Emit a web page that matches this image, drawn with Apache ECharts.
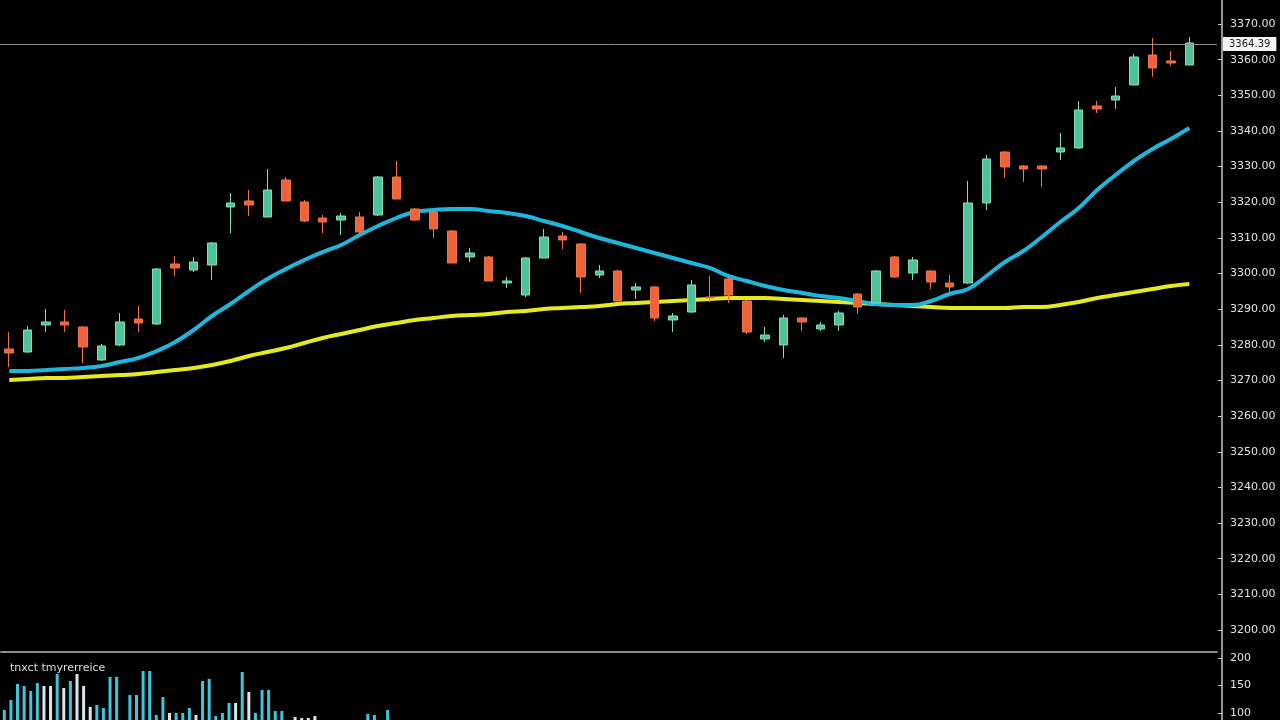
<!DOCTYPE html>
<html>
<head>
<meta charset="utf-8">
<style>
  html, body { margin: 0; padding: 0; background: #000; }
  #chart { width: 1280px; height: 720px; }
</style>
<script src="https://cdn.jsdelivr.net/npm/echarts@6/dist/echarts.min.js"></script>
</head>
<body>
<div id="chart"></div>
<script>
// ---- data ----
// candle slots (one spare future slot at the right edge)
const categories = Array.from({ length: 66 }, (_, i) => 'D' + (i + 1));

// [open, close, low, high]
const candles = [
  [3278.84, 3277.71, 3273.79, 3283.60],
  [3277.99, 3284.16, 3277.71, 3285.29],
  [3285.57, 3286.41, 3283.60, 3290.06],
  [3286.41, 3285.57, 3283.60, 3289.77],
  [3285.01, 3279.40, 3274.91, 3285.29],
  [3275.75, 3279.68, 3275.47, 3280.24],
  [3279.96, 3286.41, 3279.68, 3288.93],
  [3287.25, 3286.13, 3283.60, 3290.90],
  [3285.85, 3301.28, 3285.57, 3301.56],
  [3302.68, 3301.56, 3299.31, 3304.92],
  [3300.99, 3303.24, 3300.43, 3304.64],
  [3302.40, 3308.57, 3298.19, 3308.85],
  [3318.67, 3319.79, 3311.37, 3322.59],
  [3320.35, 3319.23, 3316.14, 3323.43],
  [3315.86, 3323.43, 3315.86, 3329.33],
  [3326.24, 3320.35, 3320.35, 3327.08],
  [3320.07, 3314.74, 3314.46, 3320.63],
  [3315.58, 3314.46, 3311.37, 3316.42],
  [3315.02, 3316.14, 3310.81, 3316.98],
  [3315.86, 3311.65, 3311.37, 3317.26],
  [3316.42, 3327.08, 3316.14, 3327.36],
  [3327.08, 3320.91, 3320.91, 3331.57],
  [3318.11, 3315.02, 3314.74, 3318.39],
  [3317.26, 3312.50, 3309.97, 3317.82],
  [3311.93, 3302.96, 3302.96, 3312.21],
  [3304.64, 3305.76, 3303.24, 3307.17],
  [3304.64, 3297.91, 3297.91, 3304.92],
  [3297.35, 3297.91, 3295.95, 3299.03],
  [3293.98, 3304.36, 3293.42, 3304.64],
  [3304.36, 3310.25, 3304.36, 3312.50],
  [3310.53, 3309.41, 3306.89, 3311.65],
  [3308.29, 3299.03, 3294.54, 3308.57],
  [3299.59, 3300.71, 3298.75, 3302.40],
  [3300.71, 3292.30, 3292.30, 3300.99],
  [3295.38, 3296.23, 3292.86, 3297.35],
  [3296.23, 3287.53, 3286.69, 3296.51],
  [3286.97, 3288.09, 3283.60, 3288.93],
  [3289.21, 3296.79, 3288.93, 3298.19],
  [3293.42, 3293.14, 3292.02, 3299.31],
  [3298.47, 3293.98, 3291.74, 3298.75],
  [3292.30, 3283.60, 3283.04, 3292.58],
  [3281.64, 3282.76, 3280.80, 3285.01],
  [3279.96, 3287.53, 3276.31, 3288.37],
  [3287.53, 3286.41, 3283.88, 3287.81],
  [3284.45, 3285.57, 3283.88, 3286.41],
  [3285.57, 3288.93, 3283.88, 3289.49],
  [3294.26, 3290.62, 3288.65, 3294.54],
  [3291.74, 3300.71, 3291.74, 3300.99],
  [3304.64, 3299.03, 3298.75, 3304.92],
  [3300.15, 3303.80, 3298.19, 3304.64],
  [3300.71, 3297.63, 3295.67, 3300.99],
  [3297.35, 3296.23, 3294.82, 3299.59],
  [3297.35, 3319.79, 3297.07, 3325.96],
  [3319.79, 3332.13, 3317.82, 3333.25],
  [3334.09, 3329.89, 3326.80, 3334.37],
  [3330.17, 3329.33, 3325.68, 3330.45],
  [3330.17, 3329.33, 3324.28, 3330.45],
  [3334.09, 3335.22, 3331.85, 3339.42],
  [3335.22, 3345.87, 3334.94, 3348.40],
  [3347.00, 3346.16, 3345.03, 3348.40],
  [3348.68, 3349.80, 3346.16, 3352.33],
  [3352.89, 3360.74, 3352.89, 3361.58],
  [3361.30, 3357.66, 3355.13, 3366.07],
  [3359.62, 3359.06, 3358.22, 3362.42],
  [3358.50, 3364.67, 3358.50, 3366.35]
];

// fast average (cyan)
const maFast = [
  3272.66, 3272.66, 3272.94, 3273.23, 3273.51, 3274.07, 3275.19, 3276.31, 3278.27, 3280.80,
  3284.16, 3288.09, 3291.46, 3295.10, 3298.47, 3301.28, 3303.80, 3306.04, 3308.01, 3310.81,
  3313.34, 3315.58, 3317.26, 3317.82, 3318.11, 3318.11, 3317.54, 3316.98, 3316.14, 3314.74,
  3313.34, 3311.65, 3309.97, 3308.57, 3307.17, 3305.76, 3304.36, 3302.96, 3301.56, 3299.31,
  3297.91, 3296.51, 3295.38, 3294.54, 3293.70, 3293.14, 3292.30, 3291.46, 3291.18, 3291.18,
  3292.30, 3294.26, 3295.67, 3299.31, 3303.24, 3306.32, 3310.25, 3314.46, 3318.39, 3323.43,
  3327.64, 3331.57, 3334.94, 3337.74, 3340.83
];

// slow average (yellow)
const maSlow = [
  3270.14, 3270.42, 3270.70, 3270.70, 3270.98, 3271.26, 3271.54, 3271.82, 3272.38, 3272.94,
  3273.51, 3274.35, 3275.47, 3276.87, 3277.99, 3279.12, 3280.52, 3281.92, 3283.04, 3284.16,
  3285.29, 3286.13, 3286.97, 3287.53, 3288.09, 3288.37, 3288.65, 3289.21, 3289.49, 3290.06,
  3290.34, 3290.62, 3290.90, 3291.46, 3291.74, 3292.02, 3292.30, 3292.58, 3292.86, 3293.14,
  3293.14, 3293.14, 3292.86, 3292.58, 3292.30, 3292.02, 3291.74, 3291.46, 3291.18, 3290.90,
  3290.62, 3290.34, 3290.34, 3290.34, 3290.34, 3290.62, 3290.62, 3291.18, 3292.02, 3293.14,
  3293.98, 3294.82, 3295.67, 3296.51, 3297.07
];

// volume pane (finer time slots)
const volSlots = Array.from({ length: 184 }, (_, i) => 'V' + (i + 1));
const volCyan = [
  105.5, 123.6, 152.7, 149.1, 140.0, 154.5, null, null, 170.9, null,
  158.2, null, null, null, 114.5, 109.1, 165.5, 165.5, null, 132.7,
  132.7, 176.4, 176.4, 96.4, 129.1, null, 100.0, 100.0, 109.1, null,
  158.2, 161.8, 94.5, 100.0, 118.2, null, 174.5, null, 100.0, 141.8,
  141.8, 103.6, 103.6, null, null, null, null, null, null, null,
  null, null, null, null, null, 98.2, 96.4, null, 105.5
];
const volWhite = [
  null, null, null, null, null, null, 149.1, 149.1, null, 145.5,
  null, 170.9, 149.1, 110.9, null, null, null, null, null, null,
  null, null, null, null, null, 100.0, null, null, null, 96.4,
  null, null, null, null, null, 118.2, null, 138.2, null, null,
  null, null, null, null, 92.7, 90.9, 90.9, 94.5, null, null,
  null, null, null, null, null, null, null, null, null
];

const priceTicks = [3370, 3360, 3350, 3340, 3330, 3320, 3310, 3300, 3290, 3280,
                    3270, 3260, 3250, 3240, 3230, 3220, 3210, 3200];
const volTicks = [200, 150, 100];
const lastPrice = 3364.39;
const volumeTitle = 'tnxct tmyrerreice';

// ---- chart ----
const chart = echarts.init(document.getElementById('chart'), null, { renderer: 'canvas' });
const axisFont = { color: '#e2e2e2', fontSize: 11, fontFamily: 'DejaVu Sans' };

chart.setOption({
  backgroundColor: '#000000',
  animation: false,
  title: {
    text: volumeTitle,
    left: 5, top: 658,
    textStyle: { color: '#dcdcdc', fontSize: 11, fontWeight: 'normal', fontFamily: 'DejaVu Sans' }
  },
  grid: [
    { left: -5, right: 63, top: 0, bottom: 69 },
    { left: 1, right: 63, top: 652, bottom: 0 }
  ],
  xAxis: [
    {
      type: 'category', gridIndex: 0, data: categories, boundaryGap: true,
      axisLine: { show: false }, axisTick: { show: false }, axisLabel: { show: false },
      splitLine: { show: false }
    },
    {
      type: 'category', gridIndex: 1, data: volSlots, boundaryGap: true, position: 'top',
      axisLine: { show: true, onZero: false, lineStyle: { color: '#b8b8b8', width: 1.5 } },
      axisTick: { show: false }, axisLabel: { show: false }, splitLine: { show: false }
    }
  ],
  yAxis: [
    {
      type: 'value', gridIndex: 0, position: 'right', offset: 5, scale: true,
      min: 3194.12, max: 3376.73,
      axisLine: { show: true, lineStyle: { color: '#c8c8c8', width: 1.5 } },
      axisTick: { show: true, inside: true, length: 4, customValues: priceTicks,
                  lineStyle: { color: '#c8c8c8' } },
      axisLabel: Object.assign({ customValues: priceTicks, margin: 8,
                  formatter: v => v.toFixed(2) }, axisFont),
      splitLine: { show: false }
    },
    {
      type: 'value', gridIndex: 1, position: 'right', offset: 5, scale: true,
      min: 87.3, max: 210.9,
      axisLine: { show: true, lineStyle: { color: '#c8c8c8', width: 1.5 } },
      axisTick: { show: true, inside: true, length: 4, customValues: volTicks,
                  lineStyle: { color: '#c8c8c8' } },
      axisLabel: Object.assign({ customValues: volTicks, margin: 8,
                  formatter: v => String(v) }, axisFont),
      splitLine: { show: false }
    }
  ],
  series: [
    {
      name: 'Slow MA', type: 'line', xAxisIndex: 0, yAxisIndex: 0,
      data: maSlow, smooth: true, showSymbol: false, symbol: 'none',
      lineStyle: { color: '#e6ea1c', width: 4 }, z: 2
    },
    {
      name: 'Fast MA', type: 'line', xAxisIndex: 0, yAxisIndex: 0,
      data: maFast, smooth: true, showSymbol: false, symbol: 'none',
      lineStyle: { color: '#1fb6dc', width: 4 }, z: 3
    },
    {
      name: 'Price', type: 'candlestick', xAxisIndex: 0, yAxisIndex: 0,
      data: candles, barWidth: 9, z: 4,
      itemStyle: {
        color: '#4fc29c', color0: '#ee643a',
        borderColor: '#86dcc0', borderColor0: '#f07446', borderWidth: 1
      },
      markLine: {
        silent: true, symbol: ['none', 'none'],
        lineStyle: { color: '#8c8c8c', width: 1, type: 'solid' },
        label: {
          show: true, position: 'end', distance: 6,
          formatter: () => lastPrice.toFixed(2),
          backgroundColor: '#f4f4f4', color: '#222', fontSize: 10,
          fontFamily: 'DejaVu Sans', padding: [2, 6]
        },
        data: [{ yAxis: lastPrice }]
      }
    },
    {
      name: 'Volume', type: 'bar', xAxisIndex: 1, yAxisIndex: 1,
      data: volCyan, barWidth: 3, barGap: '-100%', clip: true,
      itemStyle: { color: '#3fc6da' }
    },
    {
      name: 'Volume ', type: 'bar', xAxisIndex: 1, yAxisIndex: 1,
      data: volWhite, barWidth: 3, barGap: '-100%', clip: true,
      itemStyle: { color: '#d6e6ea' }
    }
  ]
});
</script>
</body>
</html>
